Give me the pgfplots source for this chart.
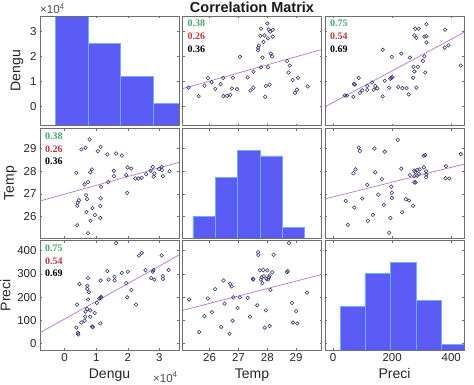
\documentclass[border=0pt]{standalone}
\usepackage{fontspec}
\setmainfont{Liberation Sans}
\newfontfamily\serifb{Liberation Serif}
\usepackage{pgfplots}
\usepackage{pgfplotstable}
\pgfplotsset{compat=1.18}
\definecolor{histc}{RGB}{90,92,245}
\definecolor{histe}{RGB}{110,175,250}
\definecolor{linec}{RGB}{185,115,205}
\definecolor{markc}{RGB}{50,50,105}
\definecolor{framec}{RGB}{110,110,110}
\definecolor{cg}{RGB}{70,165,110}
\definecolor{cr}{RGB}{185,55,60}

\pgfplotstableread{
D T
7900 29.40
5300 28.96
6600 29.03
10500 28.88
11400 29.07
13500 28.74
16300 28.78
18100 28.69
3700 27.93
8100 27.95
8600 28.08
15600 28.02
15600 27.78
19900 28.17
21100 28.12
19500 27.83
22400 27.68
23400 27.68
24400 27.71
25800 27.87
27200 28.02
27900 28.19
28400 27.90
28200 27.76
30700 28.19
30800 28.05
31100 27.78
33200 28.00
29900 28.10
13800 27.52
11500 27.32
7400 27.52
6300 27.42
19800 27.05
6800 26.95
7100 26.77
4500 26.72
4100 26.61
4000 26.48
11400 26.81
11300 26.47
8800 26.38
6900 26.20
9600 26.07
11300 25.94
8200 25.82
4000 25.62
7400 25.27
}\DT

\pgfplotstableread{
D P
16300 432
23500 378
24400 390
30700 379
4700 256
7400 282
7200 249
7200 235
7700 221
7400 190
11400 271
13500 312
13900 275
15800 287
15800 272
18100 304
20000 309
19500 260
21100 231
19800 199
22600 168
25600 316
27400 282
27900 309
28100 316
28400 275
31100 290
31100 278
32900 316
3900 168
3700 69
4200 47
4300 40
5300 91
6500 116
6300 99
7100 150
6600 138
8100 143
8100 116
8700 74
8900 71
9500 132
10200 175
11400 197
11600 201
11300 87
11000 194
}\DP

\pgfplotstableread{
T P
28.75 432
27.68 393
27.69 381
28.22 382
27.51 279
27.51 275
27.74 315
27.86 316
28.00 315
28.17 307
27.80 285
27.78 275
27.83 260
27.97 278
28.03 275
28.06 285
28.08 293
28.68 307
28.71 312
28.11 231
29.38 219
28.86 175
29.00 140
28.89 91
29.04 87
27.65 165
27.95 143
28.08 76
27.91 69
27.40 116
27.32 197
27.05 199
26.82 199
26.97 153
26.80 99
26.48 271
26.19 234
26.71 257
26.77 246
26.52 172
26.40 72
26.69 43
25.64 50
25.82 118
26.08 135
25.94 194
25.29 190
27.88 290
}\TP

\pgfplotsset{
  panel/.style={width=139pt,height=109.5pt,scale only axis,anchor=south west,
    scaled ticks=false,
    axis line style={draw=framec,line width=0.6pt},
    every tick/.style={draw=framec,line width=0.5pt},
    major tick length=2pt, tick align=inside,
    tick label style={font=\fontsize{11.5}{13}\selectfont, text=black!85},
    label style={font=\fontsize{14}{16}\selectfont, text=black!85},
    xticklabels={}, yticklabels={}},
  Dx/.style={xmin=-7800,xmax=36200,xtick={0,10000,20000,30000}},
  Dy/.style={ymin=-7800,ymax=36200,ytick={0,10000,20000,30000}},
  Tx/.style={xmin=25.06,xmax=29.88,xtick={26,27,28,29}},
  Ty/.style={ymin=25.06,ymax=29.88,ytick={26,27,28,29}},
  Px/.style={xmin=-27,xmax=443,xtick={0,200,400}},
  Py/.style={ymin=-27,ymax=443,ytick={0,100,200,300,400}},
  sc/.style={only marks, mark=o, mark size=1.8pt, mark options={draw=markc, line width=0.55pt}},
  rl/.style={draw=linec, line width=0.7pt, no marks},
  hb/.style={ybar interval, fill=histc, draw=histe, line width=0.6pt},
  hax/.style={panel, hide axis, ymin=0, ymax=20},
}
\newcommand{\corrtxt}[3]{\node[anchor=north west, inner sep=0pt, align=left,
  font=\serifb\bfseries\fontsize{10}{12.8}\selectfont] at (rel axis cs:0,1) [xshift=5pt,yshift=-4pt]
  {\textcolor{cg}{#1}\\\textcolor{cr}{#2}\\\textcolor{black}{#3}};}

\begin{document}
\begin{tikzpicture}
\useasboundingbox (0pt,0pt) rectangle (474pt,384pt);
% Row 1
\begin{axis}[hax, Dx, at={(40pt,258.5pt)}]
\addplot[hb] coordinates {(-2930,20) (7400,15) (17750,9) (28100,4) (38450,0)};
\end{axis}
\begin{axis}[panel, Dx, Dy, at={(40pt,258.5pt)}, yticklabels={0,1,2,3}, ylabel={Dengu}]
\end{axis}
\begin{axis}[panel, Tx, Dy, at={(182.5pt,258.5pt)}]
\addplot[rl] coordinates {(25.06,7000) (29.88,22700)};
\addplot[sc] table[x=T,y=D] {\DT};
\corrtxt{0.38}{0.26}{0.36}
\end{axis}
\begin{axis}[panel, Px, Dy, at={(325pt,258.5pt)}]
\addplot[rl] coordinates {(-27,-280) (443,29600)};
\addplot[sc] table[x=P,y=D] {\DP};
\corrtxt{0.75}{0.54}{0.69}
\end{axis}
% Row 2
\begin{axis}[panel, Dx, Ty, at={(40pt,146pt)}, yticklabels={26,27,28,29}, ylabel={Temp}]
\addplot[rl] coordinates {(-7800,26.69) (36200,28.39)};
\addplot[sc] table[x=D,y=T] {\DT};
\corrtxt{0.38}{0.26}{0.36}
\end{axis}
\begin{axis}[hax, Tx, at={(182.5pt,146pt)}]
\addplot[hb] coordinates {(25.42,4) (26.195,11) (26.97,16) (27.745,15) (28.52,2) (29.295,0)};
\end{axis}
\begin{axis}[panel, Tx, Ty, at={(182.5pt,146pt)}]
\end{axis}
\begin{axis}[panel, Px, Ty, at={(325pt,146pt)}]
\addplot[rl] coordinates {(-27,26.78) (443,28.31)};
\addplot[sc] table[x=P,y=T] {\TP};
\end{axis}
% Row 3
\begin{axis}[panel, Dx, Py, at={(40pt,34pt)}, xticklabels={0,1,2,3}, yticklabels={0,100,200,300,400}, xlabel={Dengu}, ylabel={Preci}]
\addplot[rl] coordinates {(-7800,47) (36200,381)};
\addplot[sc] table[x=D,y=P] {\DP};
\corrtxt{0.75}{0.54}{0.69}
\end{axis}
\begin{axis}[panel, Tx, Py, at={(182.5pt,34pt)}, xticklabels={26,27,28,29}, xlabel={Temp}]
\addplot[rl] coordinates {(25.06,143) (29.88,297)};
\addplot[sc] table[x=T,y=P] {\TP};
\end{axis}
\begin{axis}[hax, Px, at={(325pt,34pt)}]
\addplot[hb] coordinates {(26,8) (108,14) (194,16) (281,9) (365,1) (449,0)};
\end{axis}
\begin{axis}[panel, Px, Py, at={(325pt,34pt)}, xticklabels={0,200,400}, xlabel={Preci}]
\end{axis}
% annotations
\node[font=\bfseries\fontsize{14.5}{17}\selectfont, text=black!90] at (252pt,376.5pt) {Correlation Matrix};
\node[anchor=base west, inner sep=0pt, font=\fontsize{11.5}{13}\selectfont, text=black!70] at (40pt,370.5pt) {×10\textsuperscript{4}};
\node[anchor=base west, inner sep=0pt, font=\fontsize{11.5}{13}\selectfont, text=black!70] at (153pt,2pt) {×10\textsuperscript{4}};
\end{tikzpicture}
\end{document}
